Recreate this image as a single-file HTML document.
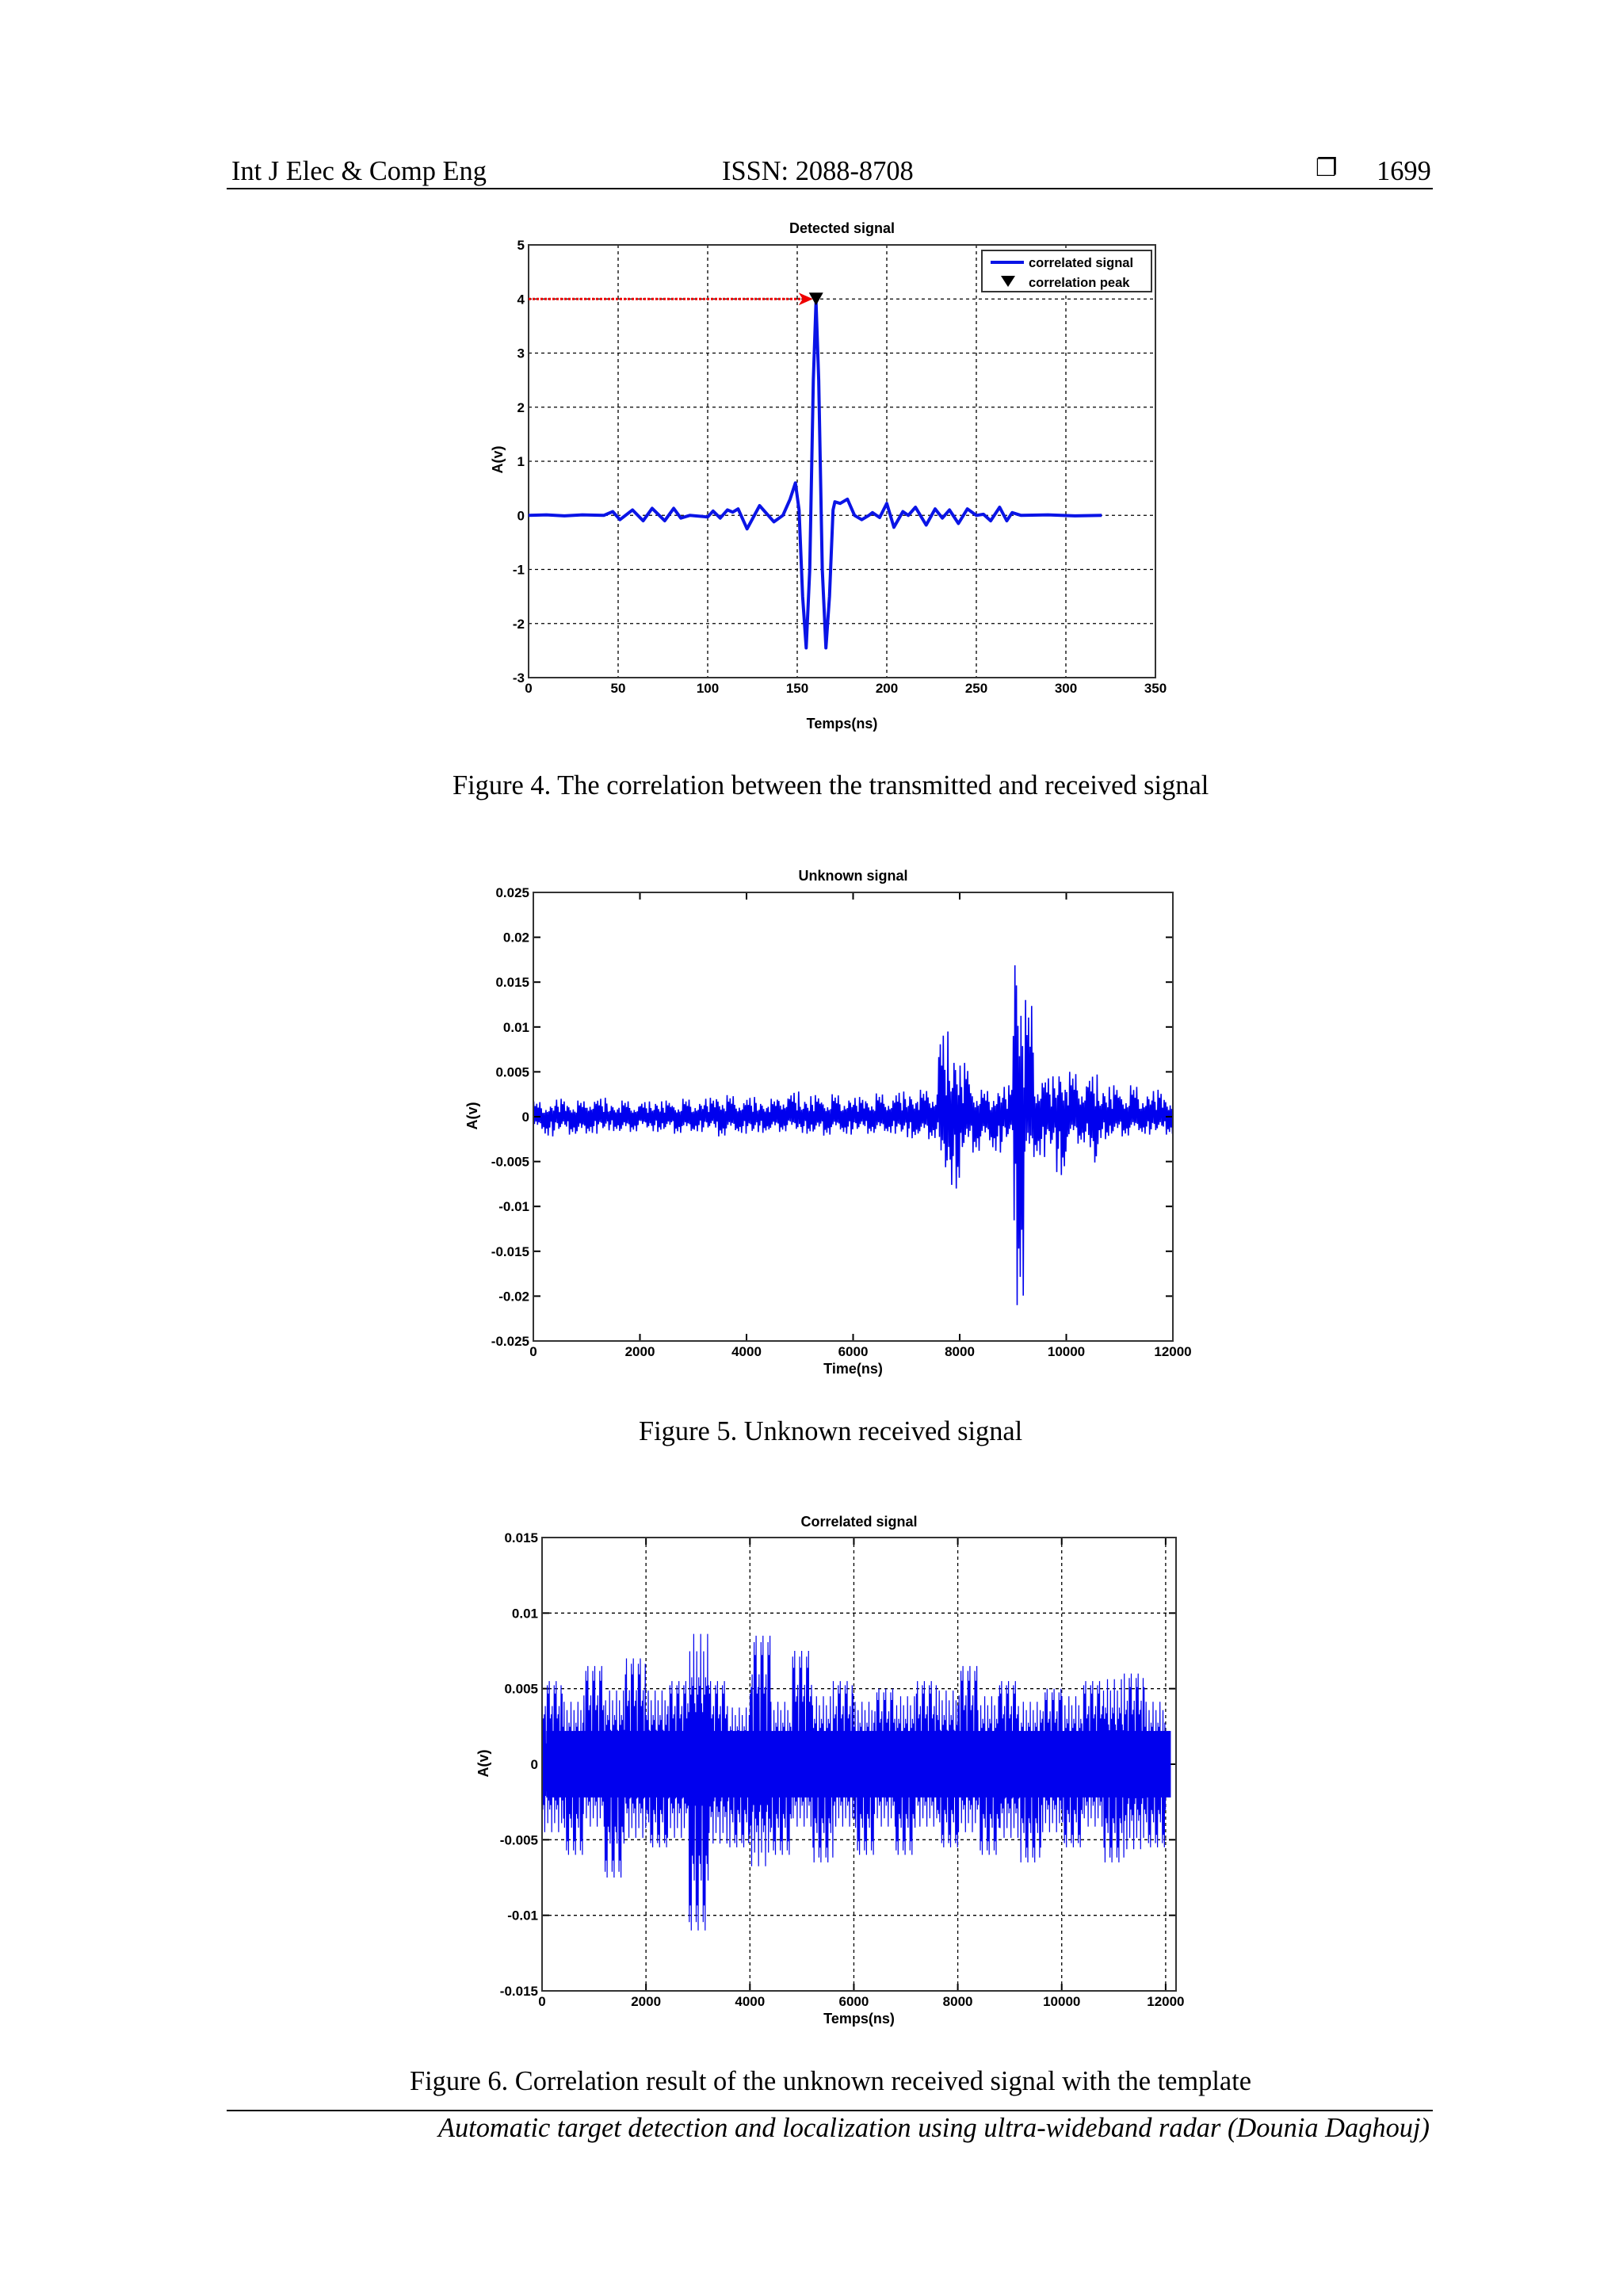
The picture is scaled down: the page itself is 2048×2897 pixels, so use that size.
<!DOCTYPE html>
<html><head><meta charset="utf-8">
<style>
body{margin:0;background:#fff;}
#page{position:relative;width:2048px;height:2897px;background:#fff;overflow:hidden;font-family:"Liberation Serif",serif;color:#000;}
.t{position:absolute;white-space:nowrap;font-size:34.4px;line-height:1;}
svg{position:absolute;left:0;top:0;}
</style></head>
<body>
<div id="page">
<div class="t" style="left:292px;top:199px">Int J Elec &amp; Comp Eng</div>
<div class="t" style="left:911px;top:199px">ISSN: 2088-8708</div>
<div class="t" style="left:1660px;top:197px;font-family:'DejaVu Sans',sans-serif;font-size:31px;font-weight:bold">❐</div>
<div class="t" style="left:1737px;top:199px">1699</div>
<div style="position:absolute;left:286px;top:237px;width:1522px;height:2px;background:#000"></div>
<div class="t" style="left:571px;top:974px">Figure 4. The correlation between the transmitted and received signal</div>
<div class="t" style="left:806px;top:1789px">Figure 5. Unknown received signal</div>
<div class="t" style="left:517px;top:2609px">Figure 6. Correlation result of the unknown received signal with the template</div>
<div style="position:absolute;left:286px;top:2662px;width:1522px;height:2px;background:#000"></div>
<div class="t" style="right:244px;top:2668px;font-style:italic">Automatic target detection and localization using ultra-wideband radar (Dounia Daghouj)</div>
<svg id="svg" width="2048" height="2897"></svg>
</div>
<script>
// ---- Chart 1 data: Detected signal ----
const c1Times = [0,10,20,30,42,47,51,58,64,69,76,81,85,90,100,103,107,111,114,117,122,129,137,142,146,149,151,153,155,157,159,160.5,162,164,166,168,170,171,174,178,182,186,190,192,196,200,204,209,212,216,222,227,231,235,240,245,250,254,258,263,267,270,275,290,305,320];
const c1Values = [0,0.01,-0.01,0.01,0,0.07,-0.08,0.1,-0.1,0.13,-0.1,0.13,-0.05,0,-0.03,0.08,-0.05,0.1,0.06,0.12,-0.25,0.18,-0.12,0,0.3,0.6,0.1,-1.5,-2.45,-1,2.5,3.95,2.5,-1,-2.45,-1.5,0.1,0.25,0.22,0.3,0,-0.08,0,0.05,-0.04,0.22,-0.22,0.07,0,0.15,-0.18,0.12,-0.05,0.1,-0.15,0.12,0,0.02,-0.1,0.15,-0.1,0.05,0,0.01,-0.01,0];
const c1XTicks = [0,50,100,150,200,250,300,350];
const c1YTicks = [-3,-2,-1,0,1,2,3,4,5];
const c1Peak = [160.5, 4];
// ---- Chart 2 data: Unknown signal (envelope per 200 ns bin) ----
const c2BinStart = [0,200,400,600,800,1000,1200,1400,1600,1800,2000,2200,2400,2600,2800,3000,3200,3400,3600,3800,4000,4200,4400,4600,4800,5000,5200,5400,5600,5800,6000,6200,6400,6600,6800,7000,7200,7400,7600,7800,8000,8200,8400,8600,8800,9000,9200,9400,9600,9800,10000,10200,10400,10600,10800,11000,11200,11400,11600,11800];
const c2Hi = [0.0017,0.0015,0.002,0.0016,0.0018,0.0022,0.0021,0.0016,0.0018,0.0015,0.0017,0.0019,0.0018,0.0016,0.002,0.0019,0.0021,0.0026,0.0024,0.002,0.0022,0.0019,0.002,0.0027,0.0028,0.0022,0.0024,0.0021,0.0025,0.0024,0.0022,0.0023,0.0026,0.0024,0.0028,0.003,0.003,0.0033,0.0095,0.008,0.006,0.0035,0.003,0.0035,0.0035,0.0225,0.013,0.005,0.0045,0.006,0.005,0.0045,0.0047,0.0035,0.0035,0.003,0.0035,0.003,0.003,0.0025];
const c2Lo = [-0.0018,-0.0022,-0.0018,-0.002,-0.0025,-0.0019,-0.0017,-0.0016,-0.0021,-0.0017,-0.0016,-0.0017,-0.0018,-0.0019,-0.0021,-0.0017,-0.0016,-0.0022,-0.002,-0.0019,-0.0021,-0.0018,-0.0019,-0.0017,-0.0018,-0.0019,-0.0022,-0.0021,-0.0019,-0.002,-0.0018,-0.0019,-0.0021,-0.0019,-0.0022,-0.0024,-0.0025,-0.0025,-0.0075,-0.008,-0.0045,-0.004,-0.0035,-0.004,-0.003,-0.021,-0.006,-0.0045,-0.004,-0.0065,-0.003,-0.003,-0.0068,-0.0025,-0.0025,-0.0022,-0.002,-0.002,-0.002,-0.002];
const c2XTicks = [0,2000,4000,6000,8000,10000,12000];
const c2YTicks = [-0.025,-0.02,-0.015,-0.01,-0.005,0,0.005,0.01,0.015,0.02,0.025];
const c2YLabels = ['-0.025','-0.02','-0.015','-0.01','-0.005','0','0.005','0.01','0.015','0.02','0.025'];
// ---- Chart 3 data: Correlated signal (envelope per 400 ns bin) ----
const c3BinStart = [0,400,800,1200,1600,2000,2400,2800,3200,3600,4000,4400,4800,5200,5600,6000,6400,6800,7200,7600,8000,8400,8800,9200,9600,10000,10400,10800,11200,11600];
const c3Hi = [0.0055,0.0055,0.0065,0.0065,0.007,0.0065,0.0055,0.0115,0.0055,0.005,0.0085,0.0055,0.0075,0.006,0.0055,0.0055,0.005,0.006,0.0055,0.0065,0.0065,0.006,0.0055,0.0055,0.005,0.006,0.0055,0.0075,0.006,0.0055];
const c3Lo = [-0.006,-0.006,-0.0055,-0.0075,-0.0065,-0.0055,-0.0065,-0.011,-0.007,-0.0055,-0.009,-0.006,-0.0055,-0.0065,-0.0055,-0.006,-0.0055,-0.006,-0.0055,-0.0055,-0.006,-0.006,-0.0065,-0.0065,-0.006,-0.0055,-0.0055,-0.0065,-0.0075,-0.0055];
const c3XTicks = [0,2000,4000,6000,8000,10000,12000];
const c3YTicks = [-0.015,-0.01,-0.005,0,0.005,0.01,0.015];
const c3YLabels = ['-0.015','-0.01','-0.005','0','0.005','0.01','0.015'];

const NS='http://www.w3.org/2000/svg';
const svg=document.getElementById('svg');
function el(tag,attrs,parent){const e=document.createElementNS(NS,tag);for(const k in attrs)e.setAttribute(k,attrs[k]);(parent||svg).appendChild(e);return e;}
function txt(s,x,y,size,anchor,parent,extra){const t=el('text',Object.assign({x:x,y:y,'font-size':size,'font-family':'Liberation Sans, sans-serif','font-weight':'bold','text-anchor':anchor||'middle'},extra||{}),parent);t.textContent=s;return t;}
function scale(d0,d1,r0,r1){return v=>r0+(v-d0)/(d1-d0)*(r1-r0);}

function frame(g,L,R,T,B,x,y,xt,yt,ylab,grid,ticks,xoff){
  if(grid){
    xt.forEach(v=>{const gl=el('line',{x1:x(v),x2:x(v),y1:T,y2:B,stroke:'#000','stroke-width':1.3,'stroke-dasharray':'4,4'},g);});
    yt.forEach(v=>{const gl=el('line',{x1:L,x2:R,y1:y(v),y2:y(v),stroke:'#000','stroke-width':1.3,'stroke-dasharray':'4,4'},g);});
  }
  if(ticks){
    xt.forEach(v=>{el('line',{x1:x(v),x2:x(v),y1:B,y2:B-9,stroke:'#000','stroke-width':2},g);el('line',{x1:x(v),x2:x(v),y1:T,y2:T+9,stroke:'#000','stroke-width':2},g);});
    yt.forEach(v=>{el('line',{x1:L,x2:L+9,y1:y(v),y2:y(v),stroke:'#000','stroke-width':2},g);el('line',{x1:R,x2:R-9,y1:y(v),y2:y(v),stroke:'#000','stroke-width':2},g);});
  }
  const r=el('rect',{x:L,y:T,width:R-L,height:B-T,fill:'none',stroke:'#333','stroke-width':2},g);
  
  
  xt.forEach(v=>{const t=txt(String(v),x(v),B+xoff,17,'middle',g);});
  yt.forEach((v,i)=>{const t=txt(ylab?ylab[i]:String(v),L-5,y(v)+6,17,'end',g);});
}

// ---------- Chart 1 ----------
(function(){
  const L=667,R=1458,T=309,B=855;
  const g=el('g',{});
  
  
  const x=scale(0,350,L,R), y=scale(-3,5,B,T);
  frame(g,L,R,T,B,x,y,c1XTicks,c1YTicks,null,true,false,19);
  const tt=txt('Detected signal',(L+R)/2,294,18,'middle',g);
  
  
  const xl=txt('Temps(ns)',(L+R)/2,919,18,'middle',g);
  
  
  const yl=txt('A(v)',0,0,18,'middle',g,{transform:'translate(634,580) rotate(-90)'});
  
  
  const pts=c1Times.map((t,i)=>x(t).toFixed(1)+','+y(c1Values[i]).toFixed(1)).join(' ');
  const ln=el('polyline',{points:pts,fill:'none',stroke:'#0a14e6','stroke-width':4,'stroke-linejoin':'round'},g);
  
  
  const ar=el('line',{x1:L,y1:y(c1Peak[1]),x2:x(c1Peak[0])-14,y2:y(c1Peak[1]),stroke:'#e00','stroke-width':3,'stroke-dasharray':'3,2'},g);
  
  
  const px=x(c1Peak[0]),py=y(c1Peak[1]);
  const ah=el('polygon',{points:`${px-4},${py} ${px-22},${py-8} ${px-17},${py} ${px-22},${py+8}`,fill:'#e00'},g);
  
  
  const pk=el('polygon',{points:`${px-9},${py-8} ${px+9},${py-8} ${px},${py+8}`,fill:'#000'},g);
  
  
  const lg=el('g',{},g);
  
  
  el('rect',{x:1239,y:316,width:214,height:52,fill:'#fff',stroke:'#333','stroke-width':2},lg);
  el('line',{x1:1250,x2:1292,y1:331,y2:331,stroke:'#0a14e6','stroke-width':4},lg);
  const l1=txt('correlated signal',1298,337,16.5,'start',lg);
  
  
  el('polygon',{points:'1263,348 1281,348 1272,362',fill:'#000'},lg);
  const l2=txt('correlation peak',1298,362,16.5,'start',lg);
  
  
})();

// shape pattern for drawing spikes within a bin (rendering style only)
const spikeShape=[1,0.45,0.7,0.3,0.85,0.5,0.6,0.35,0.95,0.4,0.55,0.75,0.25,0.65];

// ---------- Chart 2 ----------
(function(){
  const L=673,R=1480,T=1126,B=1692;
  const g=el('g',{});
  
  
  const x=scale(0,12000,L,R), y=scale(-0.025,0.025,B,T);
  const pts=[];
  c2BinStart.forEach((s,i)=>{
    const n=spikeShape.length;
    for(let k=0;k<n;k++){
      const tx=s+(k+0.5)*200/n;
      const v=(k%2===0?c2Hi[i]:c2Lo[i])*spikeShape[(k+3*i)%n];
      pts.push(x(tx).toFixed(1)+','+y(v).toFixed(1));
    }
  });
  const ln=el('polyline',{points:pts.join(' '),fill:'none',stroke:'#0000ee','stroke-width':1.6},g);
  
  
  frame(g,L,R,T,B,x,y,c2XTicks,c2YTicks,c2YLabels,false,true,19);
  const tt=txt('Unknown signal',(L+R)/2,1111,18,'middle',g);
  
  
  const xl=txt('Time(ns)',(L+R)/2,1733,18,'middle',g);
  
  
  const yl=txt('A(v)',0,0,18,'middle',g,{transform:'translate(602,1408) rotate(-90)'});
  
  
})();

// ---------- Chart 3 ----------
(function(){
  const L=684,R=1484,T=1940,B=2512;
  const g=el('g',{});
  
  
  const x=scale(0,12200,L,R), y=scale(-0.015,0.015,B,T);
  frame(g,L,R,T,B,x,y,c3XTicks,c3YTicks,c3YLabels,true,true,19);
  const band=el('rect',{x:x(80),y:y(0.0022),width:x(12100)-x(80),height:y(-0.0022)-y(0.0022),fill:'#0000ee'},g);
  
  
  const pts=[];
  c3BinStart.forEach((s,i)=>{
    const n=spikeShape.length*3;
    for(let k=0;k<n;k++){
      const end=Math.min(s+400,12100);
      const tx=s+(k+0.5)*(end-s)/n;
      const v=(k%2===0?c3Hi[i]:c3Lo[i])*spikeShape[(k*5+i)%spikeShape.length];
      pts.push(x(tx).toFixed(1)+','+y(v).toFixed(1));
    }
  });
  const ln=el('polyline',{points:pts.join(' '),fill:'none',stroke:'#0000ee','stroke-width':1.2},g);
  
  
  el('rect',{x:L,y:T,width:R-L,height:B-T,fill:'none',stroke:'#333','stroke-width':2},g);
  const tt=txt('Correlated signal',(L+R)/2,1926,18,'middle',g);
  
  
  const xl=txt('Temps(ns)',(L+R)/2,2553,18,'middle',g);
  
  
  const yl=txt('A(v)',0,0,18,'middle',g,{transform:'translate(616,2225) rotate(-90)'});
  
  
})();
</script>
</body></html>
